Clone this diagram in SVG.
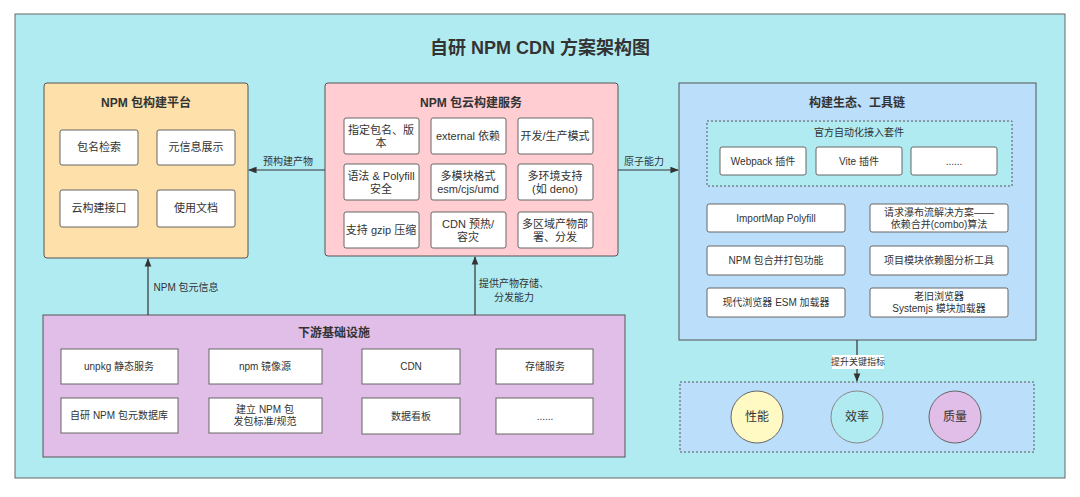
<svg xmlns="http://www.w3.org/2000/svg" width="1080" height="497" viewBox="0 0 1080 497">
<style>
text{font-family:"Liberation Sans","Noto Sans CJK SC",sans-serif;fill:#333;text-anchor:middle;dominant-baseline:central}
.t{font-size:11px}.h{font-size:12px;font-weight:bold}.s{font-size:10px}
.b{fill:#fff;stroke:#666;stroke-width:1}
.c{stroke:#333;stroke-width:1.2;fill:none}
</style>
<defs><marker id="a" viewBox="0 0 10 10" refX="9" refY="5" markerWidth="7" markerHeight="7" orient="auto"><path d="M0,1 L10,5 L0,9 z" fill="#333"/></marker></defs>
<rect width="1080" height="497" fill="#fff"/>
<rect x="15" y="14" width="1050" height="464" fill="#b1ebf2" stroke="#666"/>
<text x="540" y="48" style="font-size:18px;font-weight:bold">自研 NPM CDN 方案架构图</text>
<g id="build-platform">
<rect x="44" y="83" width="204" height="175" rx="3" fill="#fde0aa" stroke="#555"/>
<text class="h" x="146" y="103">NPM 包构建平台</text>
<rect class="b" x="60" y="130" width="78" height="35" rx="2"/><text class="t" x="99" y="147">包名检索</text>
<rect class="b" x="157" y="130" width="78" height="35" rx="2"/><text class="t" x="196" y="147">元信息展示</text>
<rect class="b" x="60" y="190" width="78" height="37" rx="2"/><text class="t" x="99" y="208">云构建接口</text>
<rect class="b" x="157" y="190" width="78" height="37" rx="2"/><text class="t" x="196" y="208">使用文档</text>
</g>
<g id="cloud-build">
<rect x="325" y="83" width="293" height="173" rx="3" fill="#ffcdd2" stroke="#555"/>
<text class="h" x="471" y="103">NPM 包云构建服务</text>
<rect class="b" x="344" y="118" width="75" height="36" rx="2"/><text class="t" x="381" y="130">指定包名、版</text><text class="t" x="381" y="143">本</text>
<rect class="b" x="431" y="118" width="75" height="36" rx="2"/><text class="t" x="468" y="136">external 依赖</text>
<rect class="b" x="518" y="118" width="75" height="36" rx="2"/><text class="t" x="555" y="136">开发/生产模式</text>
<rect class="b" x="344" y="164" width="75" height="36" rx="2"/><text class="t" x="381" y="176">语法 &amp; Polyfill</text><text class="t" x="381" y="189">安全</text>
<rect class="b" x="431" y="164" width="75" height="36" rx="2"/><text class="t" x="468" y="176">多模块格式</text><text class="t" x="468" y="189">esm/cjs/umd</text>
<rect class="b" x="518" y="164" width="75" height="36" rx="2"/><text class="t" x="555" y="176">多环境支持</text><text class="t" x="555" y="189">(如 deno)</text>
<rect class="b" x="344" y="212" width="75" height="36" rx="2"/><text class="t" x="381" y="230">支持 gzip 压缩</text>
<rect class="b" x="431" y="212" width="75" height="36" rx="2"/><text class="t" x="468" y="224">CDN 预热/</text><text class="t" x="468" y="237">容灾</text>
<rect class="b" x="518" y="212" width="75" height="36" rx="2"/><text class="t" x="555" y="224">多区域产物部</text><text class="t" x="555" y="237">署、分发</text>
</g>
<g id="ecosystem">
<rect x="679" y="83" width="357" height="257" fill="#bbdefb" stroke="#555"/>
<text class="h" x="857" y="103">构建生态、工具链</text>
<rect x="707" y="121" width="305" height="65" fill="#b1ebf2" stroke="#555" stroke-dasharray="2,2"/>
<text class="s" x="859" y="132">官方自动化接入套件</text>
<rect class="b" x="720" y="147" width="86" height="28" rx="2"/><text class="s" x="763" y="161">Webpack 插件</text>
<rect class="b" x="816" y="147" width="86" height="28" rx="2"/><text class="s" x="859" y="161">Vite 插件</text>
<rect class="b" x="911" y="147" width="86" height="28" rx="2"/><text class="s" x="954" y="161">......</text>
<rect class="b" x="707" y="204" width="138" height="28" rx="2"/><text class="s" x="776" y="218">ImportMap Polyfill</text>
<rect class="b" x="870" y="204" width="138" height="28" rx="2"/><text class="s" x="939" y="212">请求瀑布流解决方案——</text><text class="s" x="939" y="224">依赖合并(combo)算法</text>
<rect class="b" x="707" y="246" width="138" height="29" rx="2"/><text class="s" x="776" y="260">NPM 包合并打包功能</text>
<rect class="b" x="870" y="246" width="138" height="29" rx="2"/><text class="s" x="939" y="260">项目模块依赖图分析工具</text>
<rect class="b" x="707" y="288" width="138" height="29" rx="2"/><text class="s" x="776" y="302">现代浏览器 ESM 加载器</text>
<rect class="b" x="870" y="288" width="138" height="29" rx="2"/><text class="s" x="939" y="296">老旧浏览器</text><text class="s" x="939" y="308">Systemjs 模块加载器</text>
</g>
<g id="metrics">
<rect x="680" y="382" width="354" height="70" fill="#bbdefb" stroke="#555" stroke-dasharray="2,2"/>
<circle cx="757" cy="417" r="26" fill="#fff9c4" stroke="#666"/><text x="757" y="417" style="font-size:12px">性能</text>
<circle cx="857" cy="417" r="26" fill="#b1ebf2" stroke="#888"/><text x="857" y="417" style="font-size:12px">效率</text>
<circle cx="955" cy="417" r="26" fill="#e1bee7" stroke="#666"/><text x="955" y="417" style="font-size:12px">质量</text>
</g>
<g id="infra">
<rect x="43" y="315" width="582" height="142" fill="#e1bee7" stroke="#555"/>
<text class="h" x="334" y="333">下游基础设施</text>
<rect class="b" x="61" y="349" width="117" height="35"/><text class="s" x="119" y="366">unpkg 静态服务</text>
<rect class="b" x="209" y="349" width="113" height="35"/><text class="s" x="265" y="366">npm 镜像源</text>
<rect class="b" x="362" y="349" width="98" height="35"/><text class="s" x="411" y="366">CDN</text>
<rect class="b" x="496" y="349" width="97" height="35"/><text class="s" x="545" y="366">存储服务</text>
<rect class="b" x="61" y="398" width="117" height="35"/><text class="s" x="119" y="415">自研 NPM 包元数据库</text>
<rect class="b" x="209" y="398" width="113" height="35"/><text class="s" x="265" y="409">建立 NPM 包</text><text class="s" x="265" y="421">发包标准/规范</text>
<rect class="b" x="362" y="398" width="98" height="36"/><text class="s" x="411" y="416">数据看板</text>
<rect class="b" x="496" y="398" width="97" height="36"/><text class="s" x="545" y="416">......</text>
</g>
<g id="connectors">
<path class="c" d="M325,170 H249" marker-end="url(#a)"/>
<text class="s" x="288" y="161">预构建产物</text>
<path class="c" d="M618,170 H678" marker-end="url(#a)"/>
<text class="s" x="644" y="161">原子能力</text>
<path class="c" d="M148,315 V259" marker-end="url(#a)"/>
<text class="s" x="186" y="287">NPM 包元信息</text>
<path class="c" d="M475,315 V257" marker-end="url(#a)"/>
<text class="s" x="514" y="283">提供产物存储、</text><text class="s" x="514" y="297">分发能力</text>
<path class="c" d="M857,340 V381" marker-end="url(#a)"/>
<rect x="832" y="355" width="52" height="14" fill="#fff"/>
<text class="s" x="858" y="362" style="font-size:9px">提升关键指标</text>
</g>
</svg>
